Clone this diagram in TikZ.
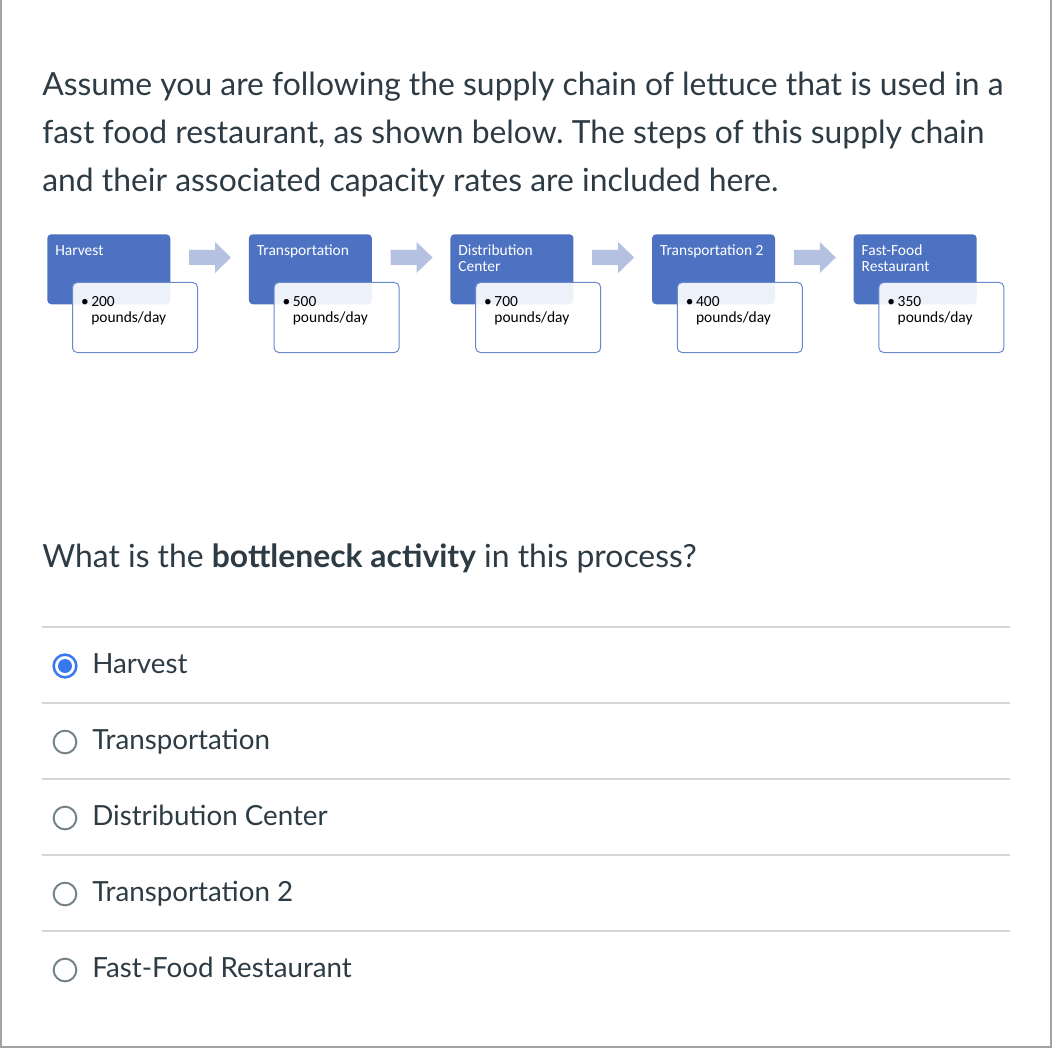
\documentclass[tikz,border=0pt]{standalone}
\usepackage{fontspec}
\setmainfont{Lato}
\newfontfamily\calib{Carlito}
\frenchspacing
\definecolor{txt}{HTML}{2D3B45}
\definecolor{framegray}{HTML}{A3A3A3}
\definecolor{sepgray}{HTML}{D2D6D9}
\definecolor{stepblue}{HTML}{4E72C2}
\definecolor{arrowblue}{HTML}{B4C1E0}
\definecolor{boxedge}{HTML}{6A88CC}
\definecolor{radioblue}{HTML}{3A78F0}
\definecolor{radiogray}{HTML}{73818A}
\begin{document}
\begin{tikzpicture}[x=0.75pt,y=-0.75pt,
  maintext/.style={anchor=base west, inner sep=0pt, text=txt, font=\fontsize{23.9}{36}\selectfont},
  opttext/.style={anchor=base west, inner sep=0pt, text=txt, font=\fontsize{20.8}{24}\selectfont},
  bluebox/.style={anchor=north west, fill=stepblue, draw=none, rounded corners=3pt, minimum width=92.25pt, minimum height=52.5pt, inner sep=0pt},
  whitebox/.style={anchor=north west, fill=white, fill opacity=0.9, draw=boxedge, line width=0.75pt, rounded corners=3.5pt, minimum width=93.75pt, minimum height=52.5pt, inner sep=0pt},
  steplabel/.style={anchor=base west, inner sep=0pt, text=white, font=\calib\fontsize{11.6}{12.2}\selectfont},
  vallabel/.style={anchor=base west, inner sep=0pt, text=black, font=\calib\fontsize{11.6}{12.2}\selectfont},
  sepline/.style={draw=sepgray, line width=1.5pt},
  radioring/.style={circle, draw=radiogray, line width=1.5pt, minimum size=17pt, inner sep=0pt},
  radiosel/.style={circle, draw=radioblue, line width=1.9pt, minimum size=17pt, inner sep=0pt}
]
\useasboundingbox (0,0) rectangle (1054,1052);
% frame
\draw[framegray, line width=1.5pt] (1,0) -- (1,1047) -- (1051,1047) -- (1051,0);

% question text
\node[maintext] (l1) at (42,96) {Assume you are following the supply chain of lettuce that is used in a};
\node[maintext] (l2) at (42,144) {fast food restaurant, as shown below. The steps of this supply chain};
\node[maintext] (l3) at (42,192) {and their associated capacity rates are included here.};

% supply chain steps
\foreach \i in {0,...,4}{
  \pgfmathsetmacro{\bx}{47+201.6*\i}
  \node[bluebox] (b\i) at (\bx,234) {};
}
\foreach \i in {0,1,2,3}{
  \pgfmathsetmacro{\ax}{189+201.6*\i}
  \fill[arrowblue] (\ax,250) -- (\ax+26,250) -- (\ax+26,242) -- (\ax+42,257.5) -- (\ax+26,273) -- (\ax+26,265) -- (\ax,265) -- cycle;
}
\foreach \i/\laba/\labb/\val in {0/Harvest//200, 1/Transportation//500, 2/Distribution/Center/700, 3/Transportation 2//400, 4/Fast-Food/Restaurant/350}{
  \pgfmathsetmacro{\bx}{47+201.6*\i}
  \node[whitebox] (w\i) at (\bx+25,282) {};
  \node[steplabel] (s\i) at (\bx+8,256) {\laba};
  \node[steplabel] (t\i) at (\bx+8,272) {\labb};
  \node[vallabel] (v\i) at (\bx+44,306) {\val};
  \node[vallabel, anchor=base east] (d\i) at (\bx+42,306) {•};
  \node[vallabel] (p\i) at (\bx+44,322.5) {pounds/day};
}

% question
\node[maintext] (q) at (42,567) {What is the \textbf{bottleneck activity} in this process?};

% separators
\foreach \y in {627,703,779,855,931}{
  \draw[sepline] (42,\y) -- (1010,\y);
}

% options
\node[radiosel] (r0) at (65,666) {};
\fill[radioblue] (r0.center) circle (7);
\node[opttext] (o0) at (92,673) {Harvest};
\node[radioring] (r1) at (65,742) {};
\node[opttext] (o1) at (92,749) {Transportation};
\node[radioring] (r2) at (65,818) {};
\node[opttext] (o2) at (92,825) {Distribution Center};
\node[radioring] (r3) at (65,894) {};
\node[opttext] (o3) at (92,901) {Transportation 2};
\node[radioring] (r4) at (65,970) {};
\node[opttext] (o4) at (92,977) {Fast-Food Restaurant};
\end{tikzpicture}
\end{document}
